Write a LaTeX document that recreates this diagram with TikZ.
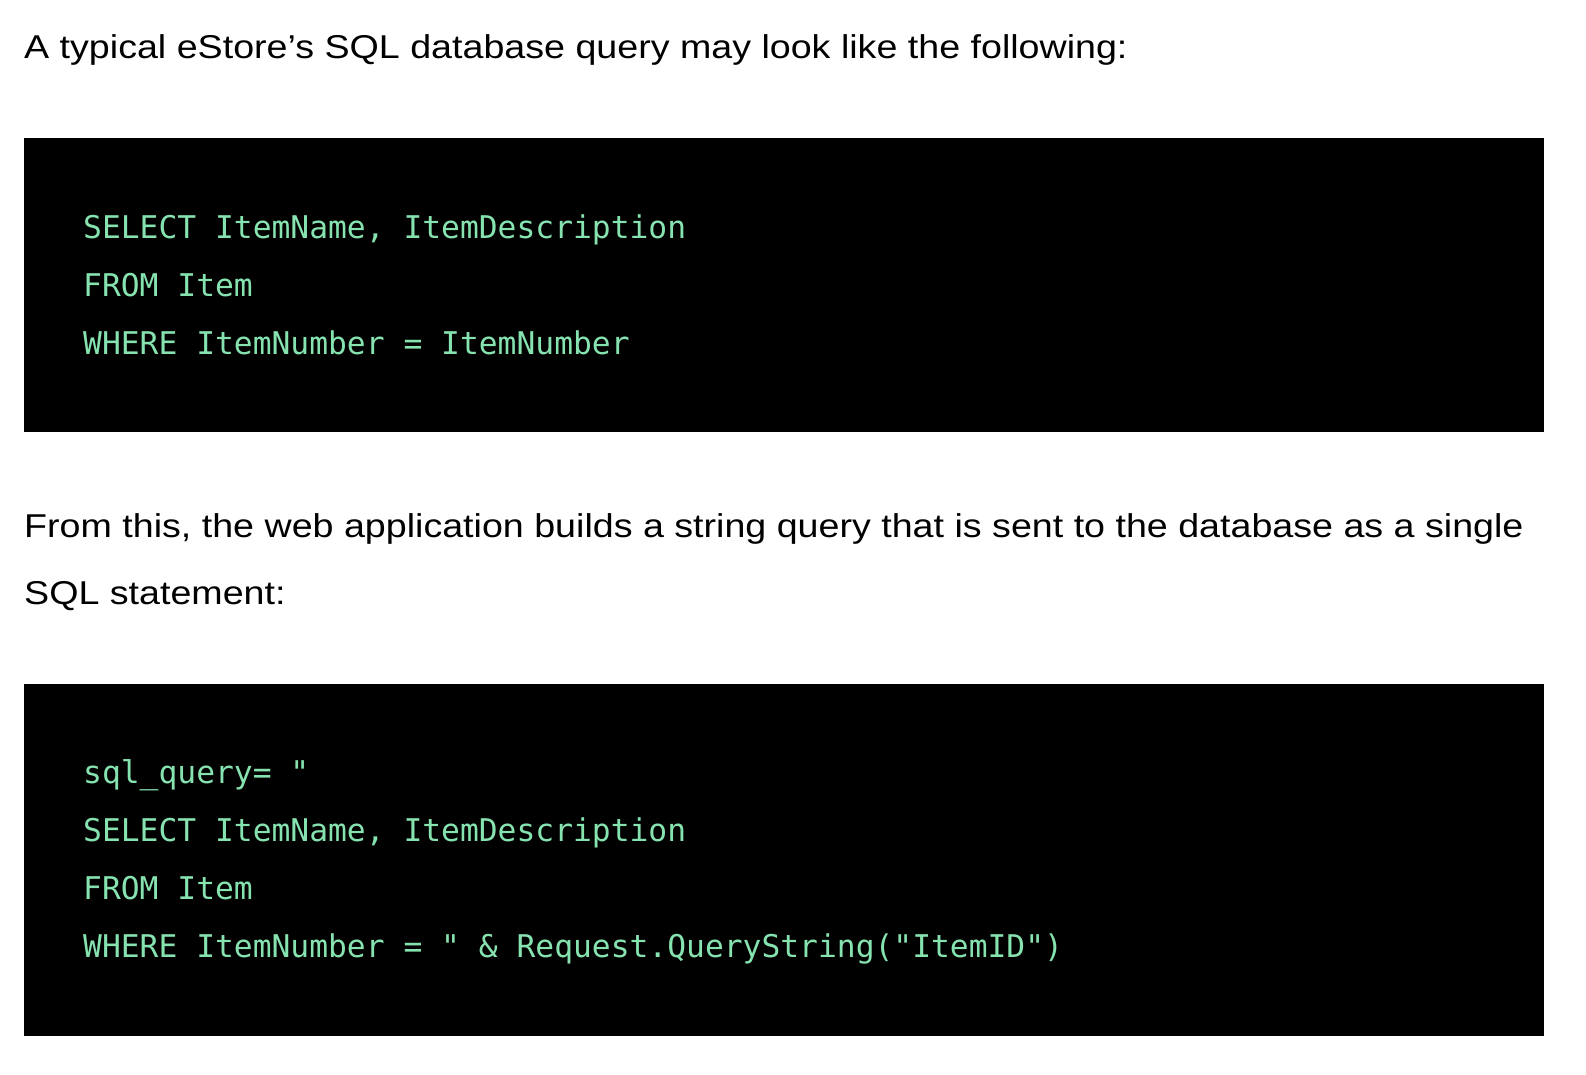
\documentclass[tikz,border=0pt]{standalone}
\usepackage{fontspec}
\setmainfont[FakeStretch=1.14]{Liberation Sans}
\newfontfamily\codefont{DejaVu Sans Mono}
\definecolor{codegreen}{HTML}{86E3B0}
\begin{document}
\begin{tikzpicture}[x=1pt,y=-1pt,
  body/.style={anchor=base west,inner sep=0pt,font=\fontsize{33}{38}\selectfont},
  code/.style={anchor=base west,inner sep=0pt,text=codegreen,font=\codefont\fontsize{31.3}{36}\selectfont}]
\useasboundingbox[fill=white] (0,0) rectangle (1586,1074);
\node[body] (t1) at (24,58) {A typical eStore’s SQL database query may look like the following:};
\fill[black] (24,138) rectangle (1544,432);
\node[code] (c1) at (83,238) {SELECT ItemName, ItemDescription};
\node[code] (c2) at (83,296) {FROM Item};
\node[code] (c3) at (83,354) {WHERE ItemNumber = ItemNumber};
\node[body] (t2) at (24,537) {From this, the web application builds a string query that is sent to the database as a single};
\node[body] (t3) at (24,604) {SQL statement:};
\fill[black] (24,684) rectangle (1544,1036);
\node[code] (d1) at (83,783) {sql\_query= "};
\node[code] (d2) at (83,841) {SELECT ItemName, ItemDescription};
\node[code] (d3) at (83,899) {FROM Item};
\node[code] (d4) at (83,957) {WHERE ItemNumber = " \& Request.QueryString("ItemID")};
\end{tikzpicture}
\end{document}
